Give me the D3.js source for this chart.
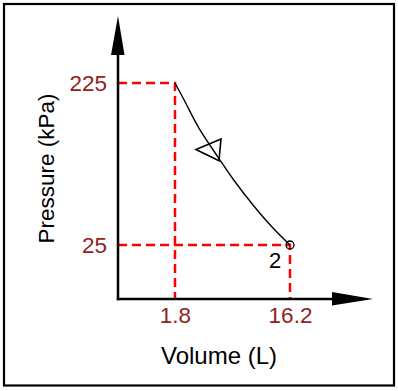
<!DOCTYPE html>
<html>
<head>
<meta charset="utf-8">
<script src="https://cdn.jsdelivr.net/npm/d3@7"></script>
<style>
  html, body { margin: 0; padding: 0; background: #fff; }
  svg { display: block; }
</style>
</head>
<body>
<svg id="chart" width="398" height="391"></svg>
<script>
// ---- data ----
const volumeTicks = [1.8, 16.2];          // L
const pressureTicks = [225, 25];          // kPa
const curveVolume = [1.8, 3.30, 4.93, 7.18, 9.06, 11.57, 14.07, 16.2];
const curvePressure = [225, 197.2, 167.0, 133.6, 106.5, 74.4, 46.0, 25];
const arrowPoint = [6.43, 142.3];         // direction marker on the process curve
const statePoint = [16.2, 25];            // state 2
const stateLabel = "2";
const xLabel = "Volume (L)";
const yLabel = "Pressure (kPa)";

// ---- layout ----
const W = 398, H = 391;
const originX = 118, originY = 299;
const tickColor = "#922222";
const font = "'Liberation Sans', Arial, sans-serif";

const svg = d3.select("#chart");

const x = d3.scaleLinear().domain([1.8, 16.2]).range([175, 290]);
const y = d3.scaleLinear().domain([25, 225]).range([245, 83]);

// frame
svg.append("rect").attr("x", 4).attr("y", 4).attr("width", 390).attr("height", 381.5)
  .attr("fill", "none").attr("stroke", "#000").attr("stroke-width", 2.2);

// dashed guide lines
const guide = d3.line();
[[volumeTicks[0], pressureTicks[0]], [volumeTicks[1], pressureTicks[1]]].forEach(([v, p]) => {
  svg.append("path")
    .attr("d", guide([[originX, y(p)], [x(v), y(p)], [x(v), originY]]))
    .attr("fill", "none").attr("stroke", "#ff0000").attr("stroke-width", 2.5)
    .attr("stroke-dasharray", "9,5");
});

// axes lines with arrowheads
svg.append("line").attr("x1", originX).attr("y1", originY + 1.2).attr("x2", originX).attr("y2", 40)
  .attr("stroke", "#000").attr("stroke-width", 2.5);
svg.append("path").attr("d", `M${originX},16 L${originX - 7},55 L${originX + 6.5},55 Z`).attr("fill", "#000");
svg.append("line").attr("x1", originX - 1.2).attr("y1", originY).attr("x2", 360).attr("y2", originY)
  .attr("stroke", "#000").attr("stroke-width", 2.5);
svg.append("path").attr("d", `M373,${originY} L332,${originY - 7} L332,${originY + 6.5} Z`).attr("fill", "#000");

// tick labels via d3 axes
const xAxis = svg.append("g").attr("transform", `translate(0,${originY})`)
  .call(d3.axisBottom(x).tickValues(volumeTicks).tickSize(0).tickPadding(8).tickFormat(d3.format(".1f")));
const yAxis = svg.append("g").attr("transform", `translate(${originX},0)`)
  .call(d3.axisLeft(y).tickValues(pressureTicks).tickSize(0).tickPadding(11).tickFormat(d3.format("d")));
[xAxis, yAxis].forEach(g => {
  g.select(".domain").remove();
  g.selectAll("text").attr("fill", tickColor).style("font-family", font).style("font-size", "22.5px");
});
yAxis.selectAll("text").attr("dy", "0.34em");

// process curve
const pts = curveVolume.map((v, i) => [x(v), y(curvePressure[i])]);
svg.append("path")
  .attr("d", d3.line().curve(d3.curveNatural)(pts))
  .attr("fill", "none").attr("stroke", "#000").attr("stroke-width", 1.4);

// direction triangle
svg.append("path")
  .attr("transform", `translate(${x(arrowPoint[0])},${y(arrowPoint[1])})`)
  .attr("d", "M-16,-0.5 L9,-11 L7,10.7 Z")
  .attr("fill", "none").attr("stroke", "#000").attr("stroke-width", 1.6).attr("stroke-linejoin", "miter");

// state point 2
svg.append("circle").attr("cx", x(statePoint[0])).attr("cy", y(statePoint[1])).attr("r", 4)
  .attr("fill", "none").attr("stroke", "#000").attr("stroke-width", 1.3);
svg.append("text").attr("x", x(statePoint[0]) - 15).attr("y", y(statePoint[1]) + 23)
  .attr("text-anchor", "middle").style("font-family", font).style("font-size", "22px")
  .attr("fill", "#000").text(stateLabel);

// axis titles
svg.append("text").attr("x", 219).attr("y", 364).attr("text-anchor", "middle")
  .style("font-family", font).style("font-size", "24px").attr("fill", "#000").text(xLabel);
svg.append("text").attr("transform", "translate(54,168.5) rotate(-90)").attr("text-anchor", "middle")
  .style("font-family", font).style("font-size", "22.5px").attr("fill", "#000").text(yLabel);
</script>
</body>
</html>
